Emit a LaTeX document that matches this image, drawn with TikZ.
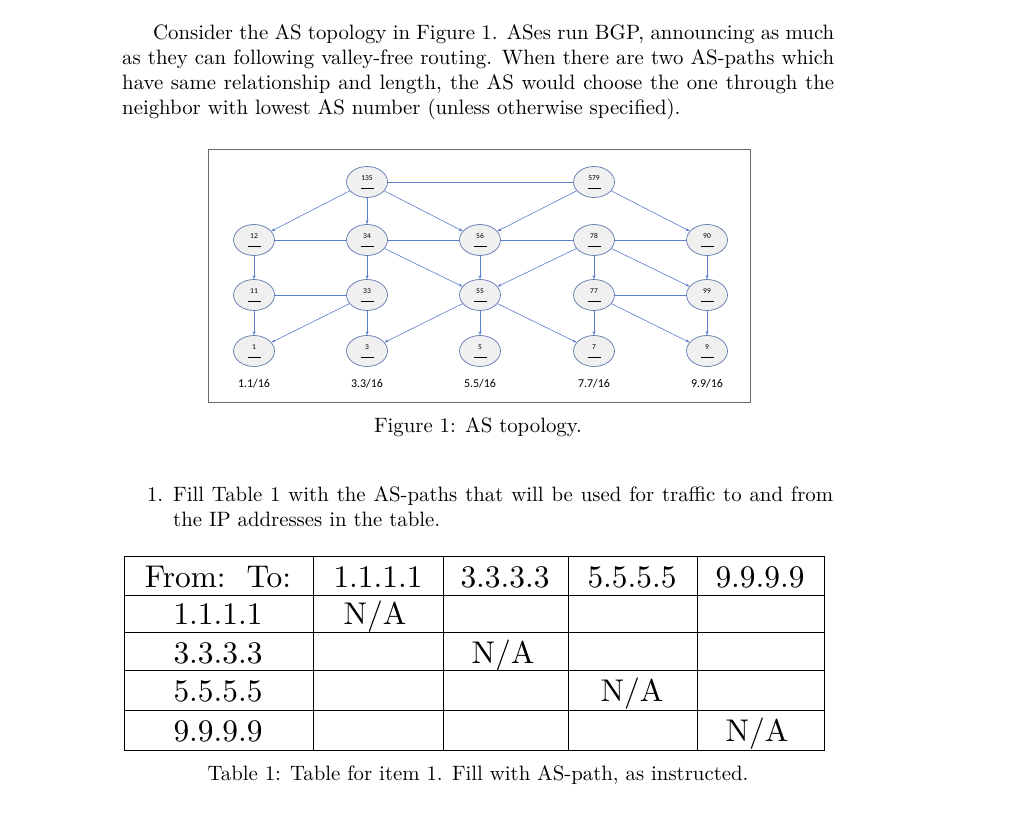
\documentclass[tikz,border=0pt]{standalone}
\usepackage{fontspec}
\setmainfont{lmroman10-regular.otf}
\newfontfamily\calfnt{Carlito}
\usetikzlibrary{shapes.geometric,arrows.meta}
\definecolor{eblue}{RGB}{90,125,200}
\definecolor{nblue}{RGB}{95,120,175}
\begin{document}
\begin{tikzpicture}[x=1pt,y=-1pt,
  as/.style={ellipse,draw=nblue,fill=black!6,line width=0.7pt,minimum width=41pt,minimum height=31pt,inner sep=0pt,font=\calfnt\fontsize{7.5}{7.5}\selectfont,align=center},
  ed/.style={draw=eblue,line width=0.6pt},
  ar/.style={ed,-{Stealth[length=4pt,width=3pt]}},
  tl/.style={font=\fontsize{31.4}{36}\selectfont,anchor=base},
  tx/.style={font=\fontsize{20.8}{25}\selectfont},
]
\useasboundingbox (0,0) rectangle (1024,824);
\node[tx,anchor=north west,text width=712pt,align=justify,inner sep=0pt] (para) at (122,24)
 {\hspace*{31pt}Consider the AS topology in Figure 1. ASes run BGP, announcing as much as they can following valley-free routing. When there are two AS-paths which have same relationship and length, the AS would choose the one through the neighbor with lowest AS number (unless otherwise specified).};
\draw[black!60,line width=0.8pt] (208,149) rectangle (750,402);
\def\asnd#1#2#3{\node[as] (n#1) at (#2,#3) {#1\\[1pt]\rule{13pt}{0.5pt}};}
\asnd{135}{367}{182}\asnd{579}{594}{182}
\asnd{12}{254}{240}\asnd{34}{367}{240}\asnd{56}{480}{240}\asnd{78}{594}{240}\asnd{90}{707}{240}
\asnd{11}{254}{295}\asnd{33}{367}{295}\asnd{55}{480}{295}\asnd{77}{594}{295}\asnd{99}{707}{295}
\asnd{1}{254}{351}\asnd{3}{367}{351}\asnd{5}{480}{351}\asnd{7}{594}{351}\asnd{9}{707}{351}
\foreach \a/\b in {135/12,135/34,135/56,579/56,579/90,12/11,11/1,34/33,34/55,33/3,33/1,56/55,55/3,55/5,55/7,78/55,78/77,78/99,90/99,77/7,77/9,99/9}
  \draw[ar] (n\a) -- (n\b);
\foreach \a/\b in {135/579,12/34,34/56,56/78,78/90,11/33,77/99}
  \draw[ed] (n\a) -- (n\b);
\foreach \t/\x in {1.1/254,3.3/367,5.5/480,7.7/594,9.9/707}
  \node[font=\calfnt\fontsize{12}{12}\selectfont] (p\t) at (\x,384) {\t/16};
\node[tx] (cap1) at (478,427) {Figure 1: AS topology.};
\node[tx,anchor=north west,text width=660pt,align=justify,inner sep=0pt] (item) at (173,486)
 {\llap{1.\hspace{10pt}}Fill Table 1 with the AS-paths that will be used for traffic to and from the IP addresses in the table.};
% table
\draw[line width=1pt] (124,556) rectangle (824,750);
\foreach \y in {595,632,670,710} \draw[line width=0.8pt] (124,\y) -- (824,\y);
\foreach \x in {313,443,568,697} \draw[line width=0.8pt] (\x,556) -- (\x,750);
\node[tl] (h0) at (218,587) {From:\ \ To:};
\node[tl] (h1) at (378,587) {1.1.1.1};
\node[tl] (h2) at (505,587) {3.3.3.3};
\node[tl] (h3) at (632,587) {5.5.5.5};
\node[tl] (h4) at (760,587) {9.9.9.9};
\node[tl] (r1) at (218,624) {1.1.1.1};
\node[tl] (r2) at (218,663) {3.3.3.3};
\node[tl] (r3) at (218,701) {5.5.5.5};
\node[tl] (r4) at (218,741) {9.9.9.9};
\node[tl] (a1) at (375,624) {N/A};
\node[tl] (a2) at (503,663) {N/A};
\node[tl] (a3) at (632,701) {N/A};
\node[tl,anchor=base east] (a4) at (792,741) {N/A};
\node[tx] (cap2) at (478,775) {Table 1: Table for item 1. Fill with AS-path, as instructed.};
\end{tikzpicture}
\end{document}
